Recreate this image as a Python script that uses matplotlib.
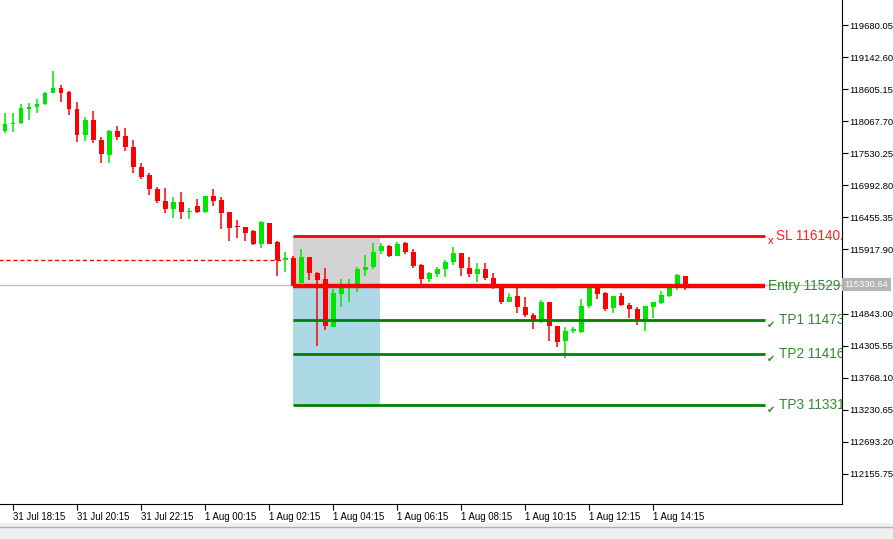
import matplotlib
matplotlib.use("Agg")
import matplotlib.pyplot as plt
from matplotlib.patches import Rectangle

opens  = [117904,118021,118038,118272,118306,118356,118541,118624,118557,118272,
          117837,118088,117753,117502,117904,117820,117636,117300,117166,116932,
          116731,116597,116714,116546,116647,116546,116814,116748,116546,116312,
          116295,116228,116010,116362,116044,115742,115776,115357,115792,115524,
          115424,114619,115172,115273,115340,115575,115625,115893,115977,115809,
          116027,115876,115658,115424,115508,115591,115709,115860,115608,115508,
          115591,115441,115273,115038,115139,114954,114820,114737,115038,114636,
          114385,114552,114536,114971,115290,115189,114937,115139,114988,114921,
          114737,114954,115022,115139,115273,115474]
highs  = [118205,118205,118356,118373,118440,118557,118909,118675,118574,118390,
          118139,118239,117803,117921,117988,117954,117753,117368,117200,116965,
          116949,116798,116882,116613,116764,116814,116932,116798,116546,116412,
          116295,116245,116396,116362,116061,115876,115809,115927,115792,115541,
          115608,115256,115424,115424,115625,115826,116027,116027,115994,116044,
          116044,115927,115675,115541,115625,115742,115960,115860,115792,115692,
          115692,115524,115290,115189,115290,115122,114854,115072,115038,114636,
          114619,114619,115089,115290,115340,115206,115139,115189,115022,114954,
          114971,115038,115223,115273,115508,115474]
lows   = [117870,117887,118021,118088,118205,118339,118541,118390,118172,117720,
          117736,117703,117368,117368,117753,117569,117200,117099,116831,116697,
          116530,116446,116429,116429,116530,116530,116647,116262,116061,116111,
          116061,115994,115943,116010,115474,115541,115307,115357,115407,114301,
          114569,114619,114954,115038,115206,115474,115591,115843,115792,115809,
          115843,115608,115273,115374,115457,115457,115658,115474,115457,115374,
          115407,115256,115005,115038,114854,114787,114586,114686,114385,114284,
          114100,114519,114519,114937,115089,114887,114854,114971,114770,114653,
          114552,114770,115005,115122,115240,115240]
closes = [118021,118038,118289,118306,118356,118541,118624,118541,118272,117837,
          118088,117753,117519,117904,117803,117636,117300,117133,116932,116731,
          116597,116714,116546,116563,116546,116814,116731,116530,116278,116295,
          116195,116010,116379,116010,115742,115776,115307,115792,115524,115407,
          114636,115189,115290,115290,115591,115625,115876,115977,115809,116010,
          115876,115642,115424,115524,115591,115709,115860,115608,115508,115591,
          115441,115273,115038,115122,114954,114820,114737,115038,114636,114368,
          114552,114586,114971,115290,115172,114921,115139,114988,114921,114737,
          114971,115038,115156,115273,115491,115323]

tick_labels = ["31 Jul 18:15","31 Jul 20:15","31 Jul 22:15","1 Aug 00:15","1 Aug 02:15",
               "1 Aug 04:15","1 Aug 06:15","1 Aug 08:15","1 Aug 10:15","1 Aug 12:15","1 Aug 14:15"]
tick_idx = [1,9,17,25,33,41,49,57,65,73,81]
y_ticks = [119680.05,119142.60,118605.15,118067.70,117530.25,116992.80,116455.35,
           115917.90,114843.00,114305.55,113768.10,113230.65,112693.20,112155.75]

sl, entry = 116150, 115300
tps = [114735, 114165, 113315]
sl_label = "SL 116140."
entry_label = "Entry 11529"
tp_labels = ["TP1 11473", "TP2 11416", "TP3 11331"]
current_price = 115330.64
dotted_level = 115742
box_start, box_end, line_end = 36, 46.9, 95

plt.rcParams['font.family'] = ['Liberation Sans', 'DejaVu Sans']
W, H = 893, 539
fig = plt.figure(figsize=(W/100, H/100), dpi=100)
ax = fig.add_axes([0, (H-504)/H, 842/W, 504/H])
ax.set_xlim(-0.625, 104.6)
ax.set_ylim(111653, 120099)

green, red = "#00e600", "#ff0000"
bw = 0.62
for i,(o,h,l,c) in enumerate(zip(opens,highs,lows,closes)):
    col = green if c >= o else red
    ax.vlines(i, l, h, color=col, lw=1.1, zorder=3)
    ax.add_patch(Rectangle((i-bw/2, min(o,c)), bw, max(abs(c-o), 12), color=col, lw=0, zorder=3))

ax.add_patch(Rectangle((box_start, entry), box_end-box_start, sl-entry, color="#d3d3d3", lw=0, zorder=1))
ax.add_patch(Rectangle((box_start, tps[2]), box_end-box_start, entry-tps[2], color="#add8e6", lw=0, zorder=1))
ax.axhline(current_price, color="#c0c0c0", lw=1, zorder=0)
ax.hlines(dotted_level, -1, 34.5, color=red, lw=1, ls=(0,(3,2)), zorder=2)
ax.hlines(sl, box_start, line_end, color=red, lw=2, zorder=4)
ax.hlines(entry, box_start, line_end, color=red, lw=3.2, zorder=4)
for t in tps:
    ax.hlines(t, box_start, line_end, color="#008000", lw=2, zorder=4)

ax.text(line_end+0.3, sl-90, "x", color=red, fontsize=8, va="center")
ax.text(line_end+1.3, sl, sl_label, color="#ff2020", fontsize=9.8, va="center", clip_on=True)
ax.text(line_end+0.4, entry, entry_label, color="#2e8b2e", fontsize=9.8, va="center", clip_on=True)
for t, lab in zip(tps, tp_labels):
    ax.text(line_end+0.2, t-80, "\u2714", color="#2e8b2e", fontsize=7, va="center",
            family=['DejaVu Sans'])
    ax.text(line_end+1.7, t, lab, color="#2e8b2e", fontsize=9.8, va="center", clip_on=True)

for s in ["top","left"]:
    ax.spines[s].set_visible(False)
ax.yaxis.tick_right()
ax.set_yticks(y_ticks)
ax.set_yticklabels([f"{v:.2f}" for v in y_ticks], fontsize=6.8)
ax.tick_params(axis="y", length=4, pad=1)
ax.set_xticks(tick_idx)
ax.set_xticklabels(tick_labels, fontsize=6.9, ha="left")
ax.tick_params(axis="x", length=4, pad=2)
ax.text(1.003, current_price, f"{current_price:.2f}", transform=ax.get_yaxis_transform(),
        fontsize=6.8, color="white", va="center", ha="left",
        bbox=dict(boxstyle="square,pad=0.25", fc="#b4b4b4", ec="none"), zorder=6)

fig.patches.append(Rectangle((0, 0), 1, 16/H, transform=fig.transFigure, color="#f0f0f0", zorder=0))
fig.lines.append(plt.Line2D([0, 1], [12/H, 12/H], transform=fig.transFigure, color="#b0b0b0", lw=1))
fig.savefig("out.png", dpi=100)
